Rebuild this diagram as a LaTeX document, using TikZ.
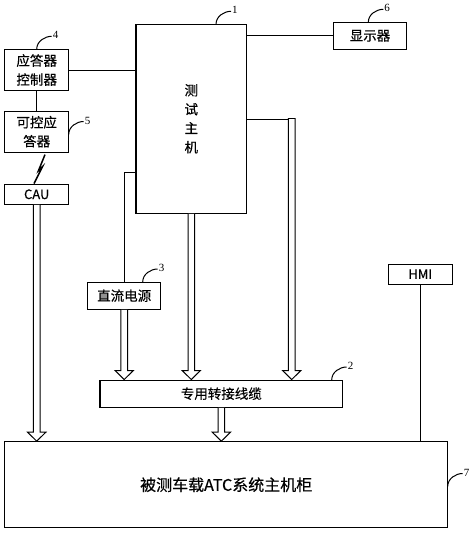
\documentclass[tikz,border=0pt]{standalone}
\usepackage{fontspec}
\setmainfont{Liberation Serif}
\newfontfamily\cjk{Noto Sans CJK SC}[FakeBold=0.4]
\usetikzlibrary{calc}
\tikzset{
  box/.style={draw, line width=1.1pt, inner sep=0pt, align=center,
    font=\cjk\fontsize{13.5}{19}\selectfont},
  wire/.style={line width=1pt},
  lead/.style={line width=1pt},
  tag/.style={font=\fontsize{11}{11}\selectfont, inner sep=0.6pt, anchor=west, yshift=1pt},
  hollow/.style={draw, line width=1pt, fill=white, line join=miter}
}
% hollow arrow from #1 down to #2 (same x)
\newcommand\harrow[2]{%
  \draw[hollow] ($(#1)+(-3.3,0)$) -- ($(#2)+(-3.3,-9)$) -- ($(#2)+(-9.2,-9)$) -- (#2)
    -- ($(#2)+(9.2,-9)$) -- ($(#2)+(3.3,-9)$) -- ($(#1)+(3.3,0)$);}
\newcommand\leader[2]{%
  \draw[lead] (#1) .. controls +(0,-8) and +(-7,0) .. ++(15,-13) node[tag]{#2};}
\begin{document}
\begin{tikzpicture}[x=1pt,y=-1pt]
\useasboundingbox (0,0) rectangle (474,533);
% nodes
\node[box, minimum width=110.7pt, minimum height=189pt] (host) at (191.3,118.8) {测\\试\\主\\机};
\node[box, minimum width=64pt, minimum height=41.4pt] (ctrl) at (36.7,70) {应答器\\控制器};
\node[box, minimum width=64pt, minimum height=41.3pt] (resp) at (36.7,131.7) {可控应\\答器};
\node[box, minimum width=64pt, minimum height=20pt, font=\cjk\fontsize{13}{15}\selectfont] (cau) at (36.7,194.3) {CAU};
\node[box, minimum width=73.4pt, minimum height=27pt] (disp) at (370,35.8) {显示器};
\node[box, minimum width=73pt, minimum height=27.3pt] (dc) at (124.2,295.7) {直流电源};
\node[box, minimum width=64pt, minimum height=20.3pt, font=\cjk\fontsize{13}{15}\selectfont] (hmi) at (420.3,274.2) {HMI};
\node[box, minimum width=242.7pt, minimum height=27.3pt] (cable) at (221.35,393.7) {专用转接线缆};
\node[box, minimum width=443pt, minimum height=86pt, font=\cjk\fontsize{16}{19}\selectfont] (cab) at (226.2,484.7) {被测车载ATC系统主机柜};
% single wires
\draw[wire] (ctrl.east) -- (ctrl.east -| host.west);
\draw[wire] (ctrl.south) -- (resp.north);
\draw[wire] (disp.west -| host.east) -- (disp.west);
\coordinate (dcj) at (124.2,172.7);
\draw[wire] (dcj -| host.west) -- (dcj) -- (dc.north);
\draw[wire] (hmi.south) -- (hmi.south |- cab.north);
\coordinate (rt) at (291.7,118);
\draw[wire] (host.east |- 0,119) -- (288.4,119);
% wireless link
\draw[line width=1.5pt, line join=miter] ($(resp.south)+(8.3,1.7)$) -- ($(resp.south)+(1.8,17.7)$)
  -- ($(resp.south)+(5.8,13.7)$) -- ($(resp.south)+(-2.7,30.7)$);
% hollow arrows
\harrow{cau.south}{cau.south |- cab.north}
\harrow{host.south}{host.south |- cable.north}
\harrow{dc.south}{dc.south |- cable.north}
\harrow{rt}{rt |- cable.north}
\draw[wire] ($(rt)+(-3.3,0)$) -- ($(rt)+(3.3,0)$);
\harrow{cable.south}{cable.south |- cab.north}
% reference numerals
\leader{216,24.3}{1}
\leader{36.7,49.3}{4}
\leader{68.7,134.5}{5}
\leader{368.3,22.3}{6}
\leader{142.7,282}{3}
\leader{331.7,380}{2}
\leader{447.7,486.5}{7}
\end{tikzpicture}
\end{document}
